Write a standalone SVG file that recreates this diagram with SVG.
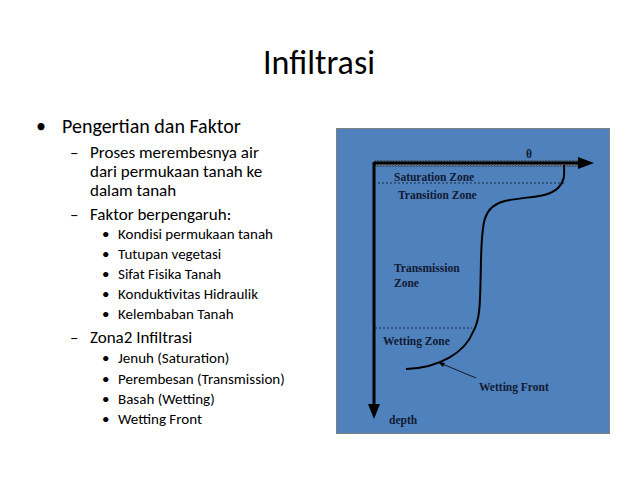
<svg xmlns="http://www.w3.org/2000/svg" width="638" height="478" viewBox="0 0 638 478">
<style>
.t{font-family:Carlito,"Liberation Sans",sans-serif;fill:#000}
.l1{font-size:20px}.l2{font-size:17px}.l3{font-size:15px}
.d{font-family:"Liberation Serif",serif;font-weight:bold;font-size:11.5px;fill:#111a33}
</style>
<defs><pattern id="h" width="3" height="3" patternUnits="userSpaceOnUse"><rect width="3" height="3" fill="#8aa0b8"/><path d="M0 3L3 0" stroke="#333" stroke-width="0.7"/></pattern></defs>
<rect width="638" height="478" fill="#fff"/>
<text class="t" x="319" y="74" text-anchor="middle" font-size="34">Infiltrasi</text>
<g id="text">
<text class="t l1" x="36" y="133">•</text><text class="t l1" x="62" y="133">Pengertian dan Faktor</text>
<text class="t l2" x="70" y="158">–</text><text class="t l2" x="90" y="158">Proses merembesnya air</text>
<text class="t l2" x="90" y="177">dari permukaan tanah ke</text>
<text class="t l2" x="90" y="196">dalam tanah</text>
<text class="t l2" x="70" y="220">–</text><text class="t l2" x="90" y="220">Faktor berpengaruh:</text>
<text class="t l3" x="102" y="239">•</text><text class="t l3" x="118" y="239">Kondisi permukaan tanah</text>
<text class="t l3" x="102" y="259">•</text><text class="t l3" x="118" y="259">Tutupan vegetasi</text>
<text class="t l3" x="102" y="279">•</text><text class="t l3" x="118" y="279">Sifat Fisika Tanah</text>
<text class="t l3" x="102" y="299">•</text><text class="t l3" x="118" y="299">Konduktivitas Hidraulik</text>
<text class="t l3" x="102" y="319">•</text><text class="t l3" x="118" y="319">Kelembaban Tanah</text>
<text class="t l2" x="70" y="343">–</text><text class="t l2" x="90" y="343">Zona2 Infiltrasi</text>
<text class="t l3" x="102" y="363">•</text><text class="t l3" x="118" y="363">Jenuh (Saturation)</text>
<text class="t l3" x="102" y="384">•</text><text class="t l3" x="118" y="384">Perembesan (Transmission)</text>
<text class="t l3" x="102" y="404">•</text><text class="t l3" x="118" y="404">Basah (Wetting)</text>
<text class="t l3" x="102" y="424">•</text><text class="t l3" x="118" y="424">Wetting Front</text>
</g>
<g id="figure">
<rect x="336.5" y="128.5" width="273" height="305" fill="#4f81bd" stroke="#7f7f7f"/>
<rect x="375" y="161" width="203" height="5" fill="url(#h)" stroke="#222" stroke-width="0.6"/>
<line x1="374" y1="163" x2="580" y2="163" stroke="#000" stroke-width="3"/>
<polygon points="578,157 594,163 578,169" fill="#000"/>
<line x1="374" y1="162" x2="374" y2="406" stroke="#000" stroke-width="3"/>
<polygon points="368,404 374,419 380,404" fill="#000"/>
<line x1="378" y1="183" x2="565" y2="183" stroke="#000" stroke-width="0.7" stroke-dasharray="2,2"/>
<line x1="375" y1="328" x2="472" y2="328" stroke="#000" stroke-width="0.7" stroke-dasharray="2,2"/>
<path d="M564 165 C564 172 566 180 558 188 C548 198 528 196 505 201 C482 206 482 225 481 260 C480 300 481 318 473 332 C465 352 440 368 406 369" fill="none" stroke="#000" stroke-width="2"/>
<line x1="476" y1="378" x2="440" y2="363" stroke="#000" stroke-width="0.8"/>
<polygon points="438,362 445,363 443,367" fill="#000"/>
<text class="d" x="526" y="158">θ</text>
<text class="d" x="394" y="181">Saturation Zone</text>
<text class="d" x="398" y="199">Transition Zone</text>
<text class="d" x="394" y="272">Transmission</text>
<text class="d" x="394" y="287">Zone</text>
<text class="d" x="383" y="345">Wetting Zone</text>
<text class="d" x="479" y="391">Wetting Front</text>
<text class="d" x="389" y="424">depth</text>
</g>
</svg>
